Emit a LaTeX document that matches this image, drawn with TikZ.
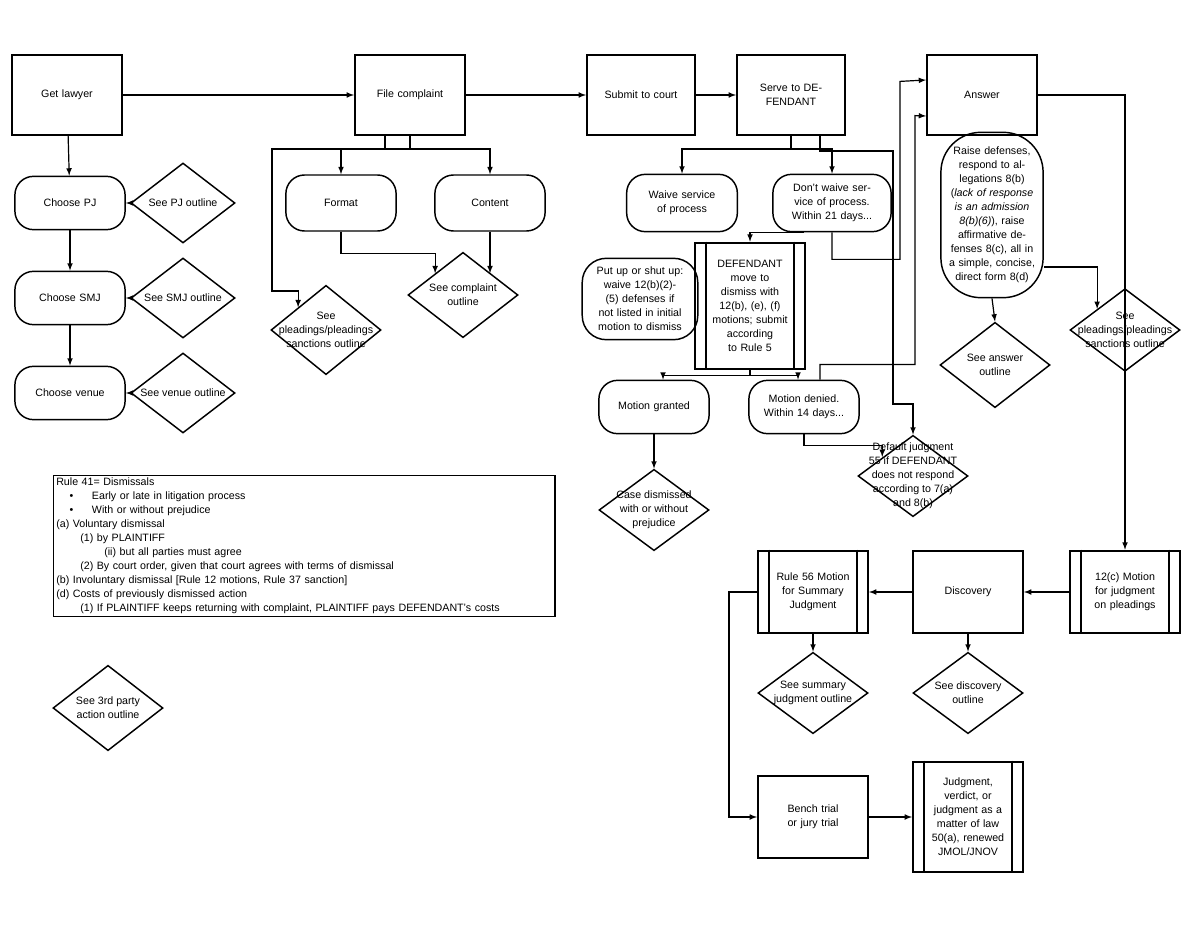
\documentclass[tikz,border=0pt]{standalone}
\usepackage{fontspec}
\setmainfont{Liberation Sans}
\usetikzlibrary{shapes.geometric, arrows, calc}
\tikzstyle{stage} = [rectangle, minimum width=82.5pt, minimum height=60pt, text width=72pt, text centered, draw=black, line width=1.4pt]
\tikzstyle{motion} = [stage, text width=60pt]
\tikzstyle{choice} = [rectangle, rounded corners=14pt, minimum width=81pt, minimum height=40pt, text width=76pt, text centered, draw=black, line width=1.1pt]
\tikzstyle{outline} = [diamond, minimum width=82.5pt, minimum height=64pt, inner sep=0pt, draw=black, line width=1.1pt]
\tikzstyle{arrow} = [line width=0.9pt,->,>=latex]
\begin{document}
\begin{tikzpicture}[x=0.75pt, y=-0.75pt, font=\fontsize{8}{10.5}\selectfont]
\useasboundingbox (0,0) rectangle (1200,927);

% top row
\node (lawyer) [stage] at (67,95) {Get lawyer};
\node (complaint) [stage] at (410,95) {File complaint};
\node (submit) [stage, minimum width=81pt] at (641,95) {Submit to court};
\node (serve) [stage, minimum width=81pt] at (791,95) {Serve to DEFENDANT};
\node (answer) [stage] at (982,95) {Answer};

% jurisdiction
\node (pj) [choice] at (70,203) {Choose PJ};
\node (smj) [choice] at (70,298) {Choose SMJ};
\node (venue) [choice] at (70,393) {Choose venue};
\node (pjout) [outline, minimum width=78pt, minimum height=60pt, label={center:See PJ outline}] at (183,203) {};
\node (smjout) [outline, minimum width=78pt, minimum height=60pt, label={center:See SMJ outline}] at (183,298) {};
\node (venueout) [outline, minimum width=78pt, minimum height=60pt, label={center:See venue outline}] at (183,393) {};

% complaint
\node (format) [choice, minimum width=79pt, minimum height=42pt] at (341,203) {Format};
\node (content) [choice, minimum width=79pt, minimum height=42pt] at (490,203) {Content};
\node (complaintout) [outline, label={[align=center]center:See complaint\\outline}] at (463,295) {};
\node (pleadA) [outline, minimum height=67pt, label={[align=center]center:See\\pleadings/pleadings\\sanctions outline}] at (326,330) {};

% service
\node (waive) [choice, minimum width=83pt, minimum height=43pt] at (682,203) {Waive service of process};
\node (dontwaive) [choice, minimum width=81pt, minimum height=43pt, text width=82pt] at (832,203) {Don't waive service of process. Within 21 days...};
\node (defmove) [motion, minimum height=95pt] at (750,306) {DEFENDANT move to dismiss with 12(b), (e), (f) motions; submit according to Rule 5};
\node (putup) [choice, rounded corners=18pt, minimum width=79pt, minimum height=61pt, text width=80pt] at (640,299) {Put up or shut up: waive 12(b)(2)-(5) defenses if not listed in initial motion to dismiss};
\node (granted) [choice] at (654,407) {Motion granted};
\node (denied) [choice] at (804,407) {Motion denied. Within 14 days...};
\node (casedis) [outline, minimum height=61pt, label={[align=center]center:Case dismissed\\with or without\\prejudice}] at (654,510) {};
\node (default) [outline, minimum height=61pt, label={[align=center]center:Default judgment\\55 if DEFENDANT\\does not respond\\according to 7(a)\\and 8(b)}] at (913,476) {};

% answer
\node (raise) [choice, rounded corners=30pt, minimum width=73pt, minimum height=124pt, text width=70pt] at (992,215) {Raise defenses, respond to allegations 8(b) (\emph{lack of response is an admission 8(b)(6)}), raise affirmative defenses 8(c), all in a simple, concise, direct form 8(d)};
\node (answerout) [outline, label={[align=center]center:See answer\\outline}] at (995,365) {};
\node (pleadB) [outline, minimum height=62pt, label={[align=center]center:See\\pleadings/pleadings\\sanctions outline}] at (1125,330) {};

% later stages
\node (twelvec) [motion, minimum height=62pt] at (1125,592) {12(c) Motion for judgment on pleadings};
\node (discovery) [stage, minimum height=62pt] at (968,592) {Discovery};
\node (rule56) [motion, minimum height=62pt] at (813,592) {Rule 56 Motion for Summary Judgment};
\node (discout) [outline, minimum height=61pt, label={[align=center]center:See discovery\\outline}] at (968,693) {};
\node (summout) [outline, minimum height=61pt, label={[align=center]center:See summary\\judgment outline}] at (813,693) {};
\node (bench) [stage, minimum height=61pt] at (813,817) {Bench trial or jury trial};
\node (judgment) [motion, minimum height=83pt] at (968,817) {Judgment, verdict, or judgment as a matter of law 50(a), renewed JMOL/JNOV};
\node (thirdparty) [outline, label={[align=center]center:See 3rd party\\action outline}] at (108,708) {};

% rule 41 box
\node (rule41) [draw=black, line width=0.9pt, text width=372pt, align=left, inner sep=2pt, anchor=north west] at (53,475) {%
Rule 41= Dismissals\\
\hspace*{10pt}\textbullet\hspace{14pt}Early or late in litigation process\\
\hspace*{10pt}\textbullet\hspace{14pt}With or without prejudice\\
(a) Voluntary dismissal\\
\hspace*{18pt}(1) by PLAINTIFF\\
\hspace*{36pt}(ii) but all parties must agree\\
\hspace*{18pt}(2) By court order, given that court agrees with terms of dismissal\\
(b) Involuntary dismissal [Rule 12 motions, Rule 37 sanction]\\
(d) Costs of previously dismissed action\\
\hspace*{18pt}(1) If PLAINTIFF keeps returning with complaint, PLAINTIFF pays DEFENDANT's costs};

% double lines of motion boxes
\foreach \n in {defmove, twelvec, rule56, judgment}
  \draw[line width=1.4pt] ([xshift=9pt]\n.north west) -- ([xshift=9pt]\n.south west)
    ([xshift=-9pt]\n.north east) -- ([xshift=-9pt]\n.south east);

\draw[arrow] (lawyer) -- (complaint);
\draw[arrow] (complaint) -- (submit);
\draw[arrow] (submit) -- (serve);
\draw[arrow] (lawyer) -- (pj);
\draw[arrow] (pj) -- (smj);
\draw[arrow] (smj) -- (venue);
\draw[arrow] (pjout) -- (pj);
\draw[arrow] (smjout) -- (smj);
\draw[arrow] (venueout) -- (venue);

\draw[arrow] ($(complaint.south)+(-25,0)$) -- ++(0,13) -| ++(-113,142) -| (pleadA.north west);
\draw[arrow] (complaint.south) -- ++(0,13) -| (format.north);
\draw[arrow] (complaint.south) -- ++(0,13) -| (content.north);
\draw[arrow] (format.south) -- ++(0,22) -| (complaintout.north west);
\draw[arrow] (content.south) -- (content.south |- complaintout.north east);

\draw[arrow] (serve.south) -- ++(0,13) -| (waive.north);
\draw[arrow] (serve.south) -- ++(0,13) -| (dontwaive.north);
\draw[arrow] ($(serve.south)+(29,0)$) -- ++(0,15) -| ++(73,253) -| (default.north);
\draw[arrow] (dontwaive.south) -- ++(0,27) -| ++(68,-178) -- ($(answer.west)+(0,-15)$);
\draw[arrow] ($(dontwaive.south)+(-28,0)$) -| (defmove.north);
\draw[arrow] (defmove.south) -- ++(0,5) -| ($(granted.north)+(9,0)$);
\draw[arrow] (defmove.south) -- ++(0,5) -| ($(denied.north)+(-6,0)$);
\draw[arrow] ($(denied.north)+(16,0)$) -- ++(0,-15) -| ++(95,-249) -- ($(answer.west)+(0,21)$);
\draw[arrow] (denied.south) -- ++(0,11) -| ($(default.west)+(25,-19)$);
\draw[arrow] (granted) -- (casedis);

\draw[arrow] (answer.east) -| (twelvec.north);
\draw[arrow] (raise.south) -- (answerout.north);
\draw[arrow] ($(raise.east)+(0,52)$) -| (pleadB.north west);

\draw[arrow] (twelvec) -- (discovery);
\draw[arrow] (discovery) -- (rule56);
\draw[arrow] (discovery) -- (discout);
\draw[arrow] (rule56) -- (summout);
\draw[arrow] (rule56.west) -- ++(-28,0) |- (bench.west);
\draw[arrow] (bench) -- (judgment);
\end{tikzpicture}
\end{document}
